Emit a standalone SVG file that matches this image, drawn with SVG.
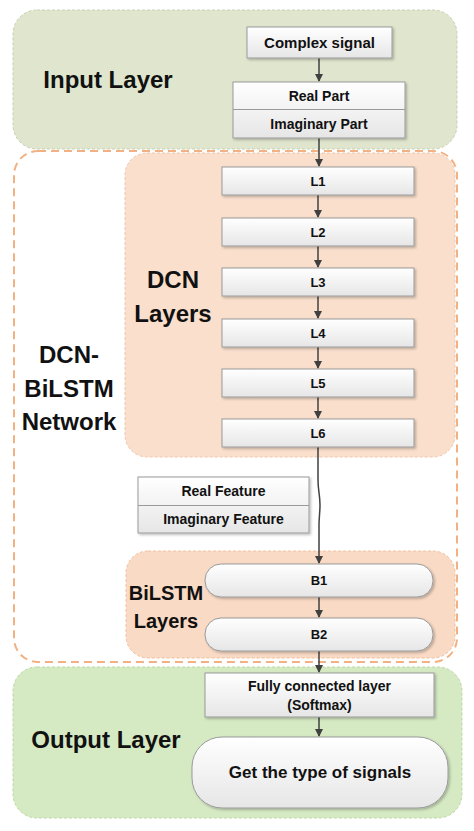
<svg xmlns="http://www.w3.org/2000/svg" width="474" height="831" viewBox="0 0 474 831">
<style>
.big{font-family:"Liberation Sans",Arial,sans-serif;font-weight:bold;font-size:24px;fill:#111;text-anchor:middle}
.mid{font-family:"Liberation Sans",Arial,sans-serif;font-weight:bold;font-size:20px;fill:#111;text-anchor:middle}
.t{font-family:"Liberation Sans",Arial,sans-serif;font-weight:bold;font-size:14px;fill:#111;text-anchor:middle}
.s{font-family:"Liberation Sans",Arial,sans-serif;font-weight:bold;font-size:13px;fill:#111;text-anchor:middle}
.box{fill:url(#g);stroke:#9a9a9a;stroke-width:1;filter:url(#sh)}
.conn{stroke:#404040;stroke-width:1.5;fill:none;marker-end:url(#ah)}
</style>
<defs>
<linearGradient id="g" x1="0" y1="0" x2="0" y2="1">
<stop offset="0" stop-color="#ffffff"/>
<stop offset="1" stop-color="#e6e6e6"/>
</linearGradient>
<filter id="sh" x="-10%" y="-20%" width="130%" height="160%">
<feDropShadow dx="1.5" dy="1.5" stdDeviation="1" flood-color="#000" flood-opacity="0.25"/>
</filter>
<marker id="ah" markerWidth="8" markerHeight="8" refX="7" refY="4" orient="auto" markerUnits="userSpaceOnUse">
<path d="M0,0 L8,4 L0,8 Z" fill="#404040"/>
</marker>
</defs>
<rect width="474" height="831" fill="#fff"/>

<g id="input-layer">
<rect x="13" y="10" width="444" height="139" rx="24" fill="#dfe6cd" stroke="#c8d0b4" stroke-width="1" stroke-dasharray="3 2"/>
<text class="big" x="108" y="88">Input Layer</text>
</g>

<g id="dcn-bilstm-network">
<rect x="14" y="151" width="443" height="511" rx="24" fill="#fff" stroke="#f2b183" stroke-width="2" stroke-dasharray="8 5"/>
<text class="big" x="69" y="363">DCN-</text>
<text class="big" x="69" y="397">BiLSTM</text>
<text class="big" x="69" y="430">Network</text>
</g>

<g id="dcn-layers">
<rect x="125" y="153" width="330" height="304" rx="22" fill="#f9dfcc" stroke="#efc8ad" stroke-width="1" stroke-dasharray="3 2"/>
<text class="big" x="173" y="288">DCN</text>
<text class="big" x="173" y="322">Layers</text>
</g>

<g id="bilstm-layers">
<rect x="126" y="551" width="329" height="107" rx="22" fill="#f9dac4" stroke="#efc0a0" stroke-width="1" stroke-dasharray="3 2"/>
<text class="mid" x="166" y="600">BiLSTM</text>
<text class="mid" x="166" y="628">Layers</text>
</g>

<g id="output-layer">
<rect x="13" y="667" width="449" height="151" rx="24" fill="#d5e9c3" stroke="#bfd8a8" stroke-width="1" stroke-dasharray="3 2"/>
<text class="big" x="106" y="748">Output Layer</text>
</g>

<g id="connectors">
<line class="conn" x1="319" y1="58" x2="319" y2="81"/>
<line class="conn" x1="319" y1="138" x2="319" y2="166"/>
<line class="conn" x1="318" y1="195" x2="318" y2="217"/>
<line class="conn" x1="318" y1="246" x2="318" y2="267"/>
<line class="conn" x1="318" y1="296" x2="318" y2="318"/>
<line class="conn" x1="318" y1="347" x2="318" y2="368"/>
<line class="conn" x1="318" y1="397" x2="318" y2="418"/>
<path class="conn" d="M318,447 L318,480 C318,490 320,495 320,505 C320,512 319,518 319,525 L319,563"/>
<line class="conn" x1="319" y1="597" x2="319" y2="617"/>
<line class="conn" x1="319" y1="651" x2="319" y2="672"/>
<line class="conn" x1="319" y1="717" x2="319" y2="736"/>
</g>

<g id="complex-signal">
<rect class="box" x="247" y="27" width="145" height="31"/>
<text class="t" x="319.5" y="47.5" style="font-size:15px">Complex signal</text>
</g>
<g id="real-imag-part">
<rect class="box" x="233" y="82" width="172" height="56"/>
<line x1="233" y1="109.5" x2="405" y2="109.5" stroke="#9a9a9a" stroke-width="1"/>
<text class="t" x="319" y="100.5">Real Part</text>
<text class="t" x="319" y="128.5">Imaginary Part</text>
</g>
<g id="L1"><rect class="box" x="222" y="167" width="192" height="28"/><text class="s" x="318" y="185.5">L1</text></g>
<g id="L2"><rect class="box" x="222" y="218" width="192" height="28"/><text class="s" x="318" y="236.5">L2</text></g>
<g id="L3"><rect class="box" x="222" y="268" width="192" height="28"/><text class="s" x="318" y="286.5">L3</text></g>
<g id="L4"><rect class="box" x="222" y="319" width="192" height="28"/><text class="s" x="318" y="337.5">L4</text></g>
<g id="L5"><rect class="box" x="222" y="369" width="192" height="28"/><text class="s" x="318" y="387.5">L5</text></g>
<g id="L6"><rect class="box" x="222" y="419" width="192" height="28"/><text class="s" x="318" y="437.5">L6</text></g>

<g id="features">
<rect class="box" x="138" y="477" width="171" height="56"/>
<line x1="138" y1="505.5" x2="309" y2="505.5" stroke="#9a9a9a" stroke-width="1"/>
<text class="t" x="223.5" y="496">Real Feature</text>
<text class="t" x="223.5" y="524">Imaginary Feature</text>
</g>

<g id="B1"><rect class="box" x="205" y="564" width="228" height="33" rx="16"/><text class="s" x="319" y="585">B1</text></g>
<g id="B2"><rect class="box" x="205" y="618" width="228" height="33" rx="16"/><text class="s" x="319" y="639">B2</text></g>

<g id="fully-connected">
<rect class="box" x="205" y="673" width="229" height="44"/>
<text class="t" x="319.5" y="691">Fully connected layer</text>
<text class="t" x="319.5" y="710">(Softmax)</text>
</g>

<g id="get-type">
<rect class="box" x="192" y="737" width="256" height="71" rx="30"/>
<text class="t" x="320" y="778" style="font-size:17px">Get the type of signals</text>
</g>
</svg>
